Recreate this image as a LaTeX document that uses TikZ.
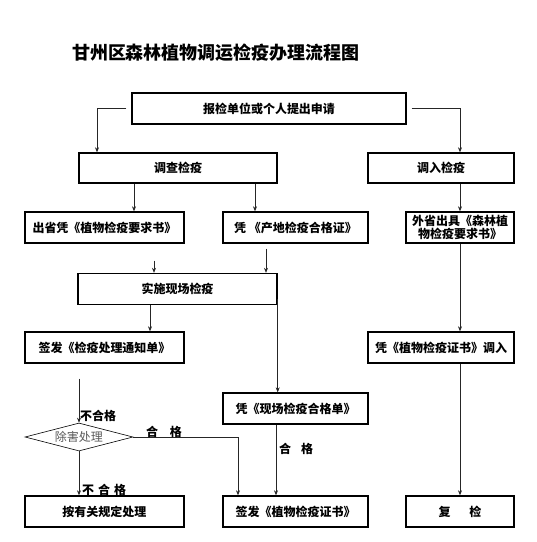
\documentclass[tikz,border=0pt]{standalone}
\usepackage{fontspec}
\setmainfont{Noto Sans CJK SC}
\usetikzlibrary{shapes.geometric,arrows.meta}

\begin{document}
\begin{tikzpicture}[x=1pt,y=-1pt,
	box/.style={draw, line width=1.4pt, inner sep=0pt, minimum height=31pt, align=center,
		font=\fontsize{12}{13.5}\selectfont\bfseries},
	arr/.style={-{Stealth[length=5pt,width=4pt]}, line width=0.6pt, black!85},
	lbl/.style={inner sep=0pt, font=\fontsize{12}{14}\selectfont\bfseries}]
	\useasboundingbox (0,0) rectangle (537,542);
	
	% Title
	\node[font=\fontsize{18}{20}\selectfont\bfseries] (title) at (216,53) {甘州区森林植物调运检疫办理流程图};
	
	% Application
	\node[box, minimum width=274pt] (req) at (269,108.5) {报检单位或个人提出申请};
	
	% Second row
	\node[box, minimum width=198pt, minimum height=30pt] (survey) at (178,168) {调查检疫};
	\node[box, minimum width=146pt, minimum height=30pt] (inbound) at (441,168) {调入检疫};
	
	% Third row
	\node[box, minimum width=159pt] (outreq) at (104.5,227.5) {出省凭《植物检疫要求书》};
	\node[box, minimum width=145pt] (origin) at (295.5,227.5) {凭 《产地检疫合格证》};
	\node[box, minimum width=108pt] (provreq) at (460,227.5) {外省出具《森林植\\物检疫要求书》};
	
	% On-site inspection
	\node[box, minimum width=199pt] (site) at (177.5,289) {实施现场检疫};
	
	% Fifth row
	\node[box, minimum width=159pt] (notice) at (104.5,347.5) {签发《检疫处理通知单》};
	\node[box, minimum width=146pt] (certin) at (441,347.5) {凭《植物检疫证书》调入};
	
	% Site pass and treatment
	\node[box, minimum width=145pt] (sitepass) at (295.5,408.5) {凭《现场检疫合格单》};
	\node[draw, diamond, line width=0.6pt, aspect=4, inner sep=0pt, minimum width=108pt, minimum height=28pt,
		text=black!65, font=\fontsize{12}{14}\selectfont] (treat) at (79,437) {除害处理};
	
	% Bottom row
	\node[box, minimum width=159pt] (rules) at (104.5,511.5) {按有关规定处理};
	\node[box, minimum width=145pt] (cert) at (295.5,511.5) {签发《植物检疫证书》};
	\node[box, minimum width=108pt] (recheck) at (460,511.5) {复\hspace{19pt}检};
	
	% Arrows from application
	\draw[arr, shorten <=5pt] (req.west) -| ([xshift=-81pt]survey.north);
	\draw[arr, shorten <=5pt] (req.east) -| ([xshift=19pt]inbound.north);
	
	% Survey branch
	\draw[arr] ([xshift=-44pt]survey.south) -- ([xshift=-44pt]survey.south |- outreq.north);
	\draw[arr] ([xshift=77pt]survey.south) -- ([xshift=77pt]survey.south |- origin.north);
	\draw[arr, shorten <=17pt] ([xshift=49.5pt]outreq.south) -- ([xshift=49.5pt]outreq.south |- site.north);
	\draw[arr, shorten <=5pt] ([xshift=-29.5pt]origin.south) -- ([xshift=-29.5pt]origin.south |- site.north);
	\draw[arr] ([xshift=-27.5pt]site.south) -- ([xshift=-27.5pt]site.south |- notice.north);
	\draw[arr] ([yshift=6pt]site.south east) -- (site.south east |- sitepass.north);
	
	% Treatment
	\draw[arr, shorten <=15pt] ([xshift=-25.5pt]notice.south) -- (treat.north);
	\node[lbl, anchor=south west] (fail1) at ([xshift=1pt,yshift=1pt]treat.north) {不合格};
	\draw[arr] (treat.east) -| ([xshift=-57.5pt]cert.north);
	\node[lbl, anchor=south] (pass1) at (164,438) {合\quad 格};
	\draw[arr] (treat.south) -- (treat.south |- rules.north);
	\node[lbl, anchor=south west] (fail2) at ([xshift=3pt,yshift=-1pt]treat.south |- rules.north) {不\hspace{4pt}合\hspace{4pt}格};
	
	% Site pass to certificate
	\draw[arr] ([xshift=-19.5pt]sitepass.south) -- ([xshift=-19.5pt]sitepass.south |- cert.north);
	\node[lbl, anchor=west] (pass2) at (279,449) {合\hspace{10pt}格};
	
	% Inbound branch
	\draw[arr] ([xshift=19pt]inbound.south) -- (provreq.north);
	\draw[arr] (provreq.south) -- ([xshift=19pt]certin.north);
	\draw[arr] ([xshift=19pt]certin.south) -- (recheck.north);
\end{tikzpicture}
\end{document}
